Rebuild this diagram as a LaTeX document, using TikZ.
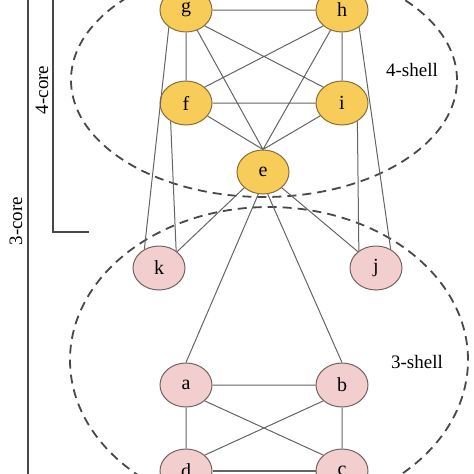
\documentclass[tikz,border=0pt]{standalone}
\usepackage{xcolor}
\usepackage{fontspec}
\setmainfont{Liberation Serif}
\usepackage{tikz}
\usetikzlibrary{shapes.geometric}

\definecolor{coreyellow}{RGB}{248,204,88}
\definecolor{corerim}{RGB}{135,112,58}
\definecolor{shellpink}{RGB}{242,206,206}
\definecolor{shellrim}{RGB}{115,100,100}
\definecolor{edgegray}{RGB}{100,100,100}
\definecolor{ringgray}{RGB}{72,72,72}

\tikzset{
	vtx/.style={ellipse, minimum width=52pt, minimum height=44pt, inner sep=0pt, line width=1pt, font=\fontsize{20}{23}\selectfont},
	core/.style={vtx, draw=corerim, fill=coreyellow},
	shellv/.style={vtx, draw=shellrim, fill=shellpink},
	edge/.style={draw=edgegray, line width=1pt},
	ring/.style={draw=ringgray, line width=1.8pt, dash pattern=on 9pt off 6pt},
	bracket/.style={draw=ringgray, line width=1.4pt},
	tag/.style={font=\fontsize{19}{22}\selectfont},
}

\begin{document}
\begin{tikzpicture}[x=1pt, y=-1pt]
\useasboundingbox (0,0) rectangle (474,474);
\clip (0,0) rectangle (474,474);
% shells
\draw[ring] (264,80) ellipse [x radius=193pt, y radius=117pt];
\draw[ring] (269,360) ellipse [x radius=199pt, y radius=153pt];
\node[tag] (t4) at (412,70) {4-shell};
\node[tag] (t3) at (417,362) {3-shell};
% cores
\draw[bracket] (53,-5) -- (53,232) -- (89,232);
\draw[bracket] (28,-5) -- (28,480);
\node[tag, rotate=90] (c4) at (42,90) {4-core};
\node[tag, rotate=90] (c3) at (16,221) {3-core};
% vertices
\node[core] (g) at (186,10) {g};
\node[core] (h) at (342,10) {h};
\node[core] (f) at (186,103) {f};
\node[core] (i) at (342,103) {i};
\node[core] (e) at (263,172) {e};
\node[shellv] (k) at (159,268) {k};
\node[shellv] (j) at (376,268) {j};
\node[shellv] (a) at (186,385) {a};
\node[shellv] (b) at (342,385) {b};
\node[shellv] (d) at (186,471) {d};
\node[shellv] (c) at (342,471) {c};
% edges
\draw[edge]
	(g) -- (h)
	(g) -- (f)
	(h) -- (i)
	(f) -- (i)
	(g.south east) -- (i.north west)
	(h.south west) -- (f.north east)
	(g) -- (e.north)
	(h) -- (e.north)
	(f) -- (e.north)
	(i) -- (e.north)
	(g.225) -- (k.128)
	(f.230) -- (k.45)
	(e.220) -- (k.42)
	(h.315) -- (j.52)
	(i.310) -- (j.135)
	(e.320) -- (j.138)
	(e.258) -- (a.north)
	(e.282) -- (b.north)
	(a) -- (b)
	(a) -- (d)
	(b) -- (c)
	(a.south east) -- (c.north west)
	(b.south west) -- (d.north east);
\draw[edge, line width=1.8pt] (d) -- (c);
\end{tikzpicture}
\end{document}
